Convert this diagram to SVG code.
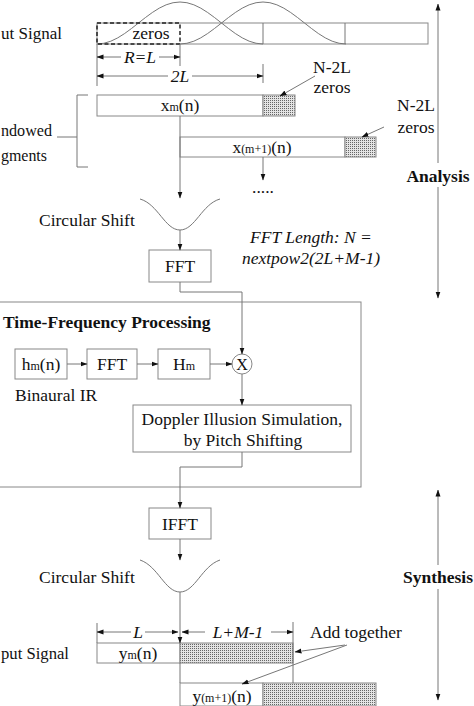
<svg xmlns="http://www.w3.org/2000/svg" width="474" height="706" viewBox="0 0 474 706">
<defs>
<style>
text{font-family:"Liberation Serif","Times New Roman",serif;font-size:17.5px;fill:#111}
.it{font-style:italic}
.b{font-weight:bold}
.sub{font-size:12px}
.ln{stroke:#777;stroke-width:1;fill:none}
.box{stroke:#888;stroke-width:1;fill:#fff}
.hatch{stroke:#888;stroke-width:1;fill:url(#dots)}
.mid{text-anchor:middle}
</style>
<pattern id="dots" width="2" height="2" patternUnits="userSpaceOnUse">
<rect width="2" height="2" fill="#e4e4e4"/>
<rect width="1" height="1" fill="#666"/>
</pattern>
<marker id="ah" markerWidth="7" markerHeight="6" refX="6.5" refY="3" orient="auto-start-reverse" markerUnits="userSpaceOnUse">
<path d="M0,0.5 L7,3 L0,5.5 Z" fill="#111"/>
</marker>
<polyline id="win" points="97,44 103.92,43.28 110.83,41.19 117.75,37.85 124.67,33.5 131.58,28.43 138.5,23 145.42,17.57 152.33,12.5 159.25,8.15 166.17,4.81 173.08,2.71 180,2 186.92,2.71 193.83,4.81 200.75,8.15 207.67,12.5 214.58,17.57 221.5,23 228.42,28.43 235.33,33.5 242.25,37.85 249.17,41.19 256.08,43.28 263,44"/>
</defs>
<rect width="474" height="706" fill="#fff"/>

<g id="input-signal">
<rect class="box" x="97" y="23" width="331" height="21"/>
<line class="ln" x1="263" y1="23" x2="263" y2="44"/>
<line class="ln" x1="345" y1="23" x2="345" y2="44"/>
<use href="#win" class="ln"/>
<use href="#win" class="ln" transform="translate(83 0)"/>
<rect x="97" y="23" width="83" height="21" fill="none" stroke="#222" stroke-width="1.5" stroke-dasharray="4 2.5"/>
<text class="mid" x="151" y="39">zeros</text>
<text x="1" y="39" textLength="61" lengthAdjust="spacingAndGlyphs">ut Signal</text>
</g>

<g id="dimensions-top">
<line class="ln" x1="97" y1="44" x2="97" y2="86"/>
<line class="ln" x1="180" y1="44" x2="180" y2="66"/>
<line class="ln" x1="263" y1="64" x2="263" y2="83"/>
<line class="ln" x1="97" y1="57" x2="180" y2="57" marker-start="url(#ah)" marker-end="url(#ah)"/>
<rect x="121" y="48" width="38" height="17" fill="#fff"/>
<text class="it mid" x="140" y="63">R=L</text>
<line class="ln" x1="97" y1="76" x2="263" y2="76" marker-start="url(#ah)" marker-end="url(#ah)"/>
<rect x="168" y="67" width="24" height="17" fill="#fff"/>
<text class="it mid" x="180" y="82">2L</text>
</g>

<g id="segment-m">
<rect class="box" x="97" y="95" width="166" height="21"/>
<rect class="hatch" x="263" y="95" width="32" height="21"/>
<text class="mid" x="180" y="111">x<tspan class="sub">m</tspan>(n)</text>
<text class="mid" x="332" y="73">N-2L</text>
<text class="mid" x="332" y="93">zeros</text>
<line class="ln" x1="315" y1="76" x2="280" y2="96" marker-end="url(#ah)"/>
</g>

<g id="segment-m1">
<rect class="box" x="180" y="137" width="165" height="20"/>
<rect class="hatch" x="345" y="137" width="31" height="20"/>
<text class="mid" x="262" y="153">x<tspan class="sub">(m+1)</tspan>(n)</text>
<text class="mid" x="416" y="111">N-2L</text>
<text class="mid" x="416" y="133">zeros</text>
<line class="ln" x1="384" y1="127" x2="362" y2="137" marker-end="url(#ah)"/>
<text class="mid" x="263" y="193">.....</text>
</g>

<g id="bracket">
<path class="ln" d="M88,95 H77 V167 H88 M57,137 H77"/>
<text x="1" y="136" textLength="51" lengthAdjust="spacingAndGlyphs">ndowed</text>
<text x="1" y="161" textLength="46" lengthAdjust="spacingAndGlyphs">gments</text>
</g>

<g id="circshift1">
<path class="ln" d="M140,199 C158,204 165,230 180,230 C195,230 202,204 220,199"/>
<text x="39" y="226">Circular Shift</text>
</g>

<g id="fft1">
<rect class="box" x="149" y="250" width="62" height="32"/>
<text class="mid" x="180" y="272">FFT</text>
</g>

<g id="fft-length">
<text class="it mid" x="311" y="243">FFT Length: N =</text>
<text class="it mid" x="311" y="264">nextpow2(2L+M-1)</text>
</g>

<g id="analysis">
<line class="ln" x1="438" y1="4" x2="438" y2="298" marker-start="url(#ah)" marker-end="url(#ah)"/>
<rect x="404" y="163" width="70" height="24" fill="#fff"/>
<text class="b mid" x="438" y="182">Analysis</text>
</g>

<g id="tf-processing">
<rect x="-5" y="302" width="366" height="185" fill="none" stroke="#888" stroke-width="1"/>
<text class="b" x="3" y="328">Time-Frequency Processing</text>
</g>

<g id="hm">
<rect class="box" x="15" y="349" width="52" height="30"/>
<text class="mid" x="41" y="370">h<tspan class="sub">m</tspan>(n)</text>
<text x="15" y="401">Binaural IR</text>
</g>

<g id="fft2">
<rect class="box" x="87" y="349" width="50" height="30"/>
<text class="mid" x="112" y="370">FFT</text>
</g>

<g id="Hm">
<rect class="box" x="158" y="349" width="52" height="30"/>
<text class="mid" x="184" y="370">H<tspan class="sub">m</tspan></text>
</g>

<g id="multiply">
<circle cx="242" cy="364" r="10" fill="#fff" stroke="#888"/>
<text class="mid" x="242" y="370" style="font-size:16px">X</text>
</g>

<g id="doppler">
<rect class="box" x="133" y="405" width="218" height="47"/>
<text class="mid" x="242" y="425">Doppler Illusion Simulation,</text>
<text class="mid" x="243" y="446">by Pitch Shifting</text>
</g>

<g id="ifft">
<rect class="box" x="149" y="508" width="62" height="31"/>
<text class="mid" x="180" y="530">IFFT</text>
</g>

<g id="circshift2">
<path class="ln" d="M140,560 C158,566 165,592 180,592 C195,592 202,566 220,560"/>
<text x="39" y="583">Circular Shift</text>
</g>

<g id="synthesis">
<line class="ln" x1="438" y1="490" x2="438" y2="700" marker-start="url(#ah)" marker-end="url(#ah)"/>
<rect x="402" y="565" width="72" height="24" fill="#fff"/>
<text class="b mid" x="438" y="583">Synthesis</text>
</g>

<g id="output-signal">
<rect class="box" x="97" y="643" width="83" height="20"/>
<rect class="hatch" x="180" y="643" width="113" height="20"/>
<text class="mid" x="138" y="659">y<tspan class="sub">m</tspan>(n)</text>
<rect class="box" x="180" y="683" width="83" height="23"/>
<rect class="hatch" x="263" y="683" width="113" height="23"/>
<text class="mid" x="222" y="702">y<tspan class="sub">(m+1)</tspan>(n)</text>
<text x="1" y="659" textLength="68" lengthAdjust="spacingAndGlyphs">put Signal</text>
</g>

<g id="dimensions-bottom">
<line class="ln" x1="97" y1="623" x2="97" y2="643"/>
<line class="ln" x1="293" y1="622" x2="293" y2="683"/>
<line class="ln" x1="97" y1="632" x2="178" y2="632" marker-start="url(#ah)" marker-end="url(#ah)"/>
<line class="ln" x1="182" y1="632" x2="293" y2="632" marker-start="url(#ah)" marker-end="url(#ah)"/>
<rect x="131" y="623" width="14" height="17" fill="#fff"/>
<text class="it mid" x="138" y="638">L</text>
<rect x="205" y="623" width="66" height="17" fill="#fff"/>
<text class="it mid" x="238" y="638">L+M-1</text>
</g>

<g id="add-together">
<text x="310" y="638">Add together</text>
<line class="ln" x1="345" y1="645" x2="295" y2="652" marker-end="url(#ah)"/>
<line class="ln" x1="347" y1="645" x2="242" y2="684" marker-end="url(#ah)"/>
</g>

<g id="connectors">
<line class="ln" x1="180" y1="116" x2="180" y2="198" marker-end="url(#ah)"/>
<line class="ln" x1="263" y1="157" x2="263" y2="180" marker-end="url(#ah)"/>
<line class="ln" x1="180" y1="230" x2="180" y2="250" marker-end="url(#ah)"/>
<path class="ln" d="M180,282 V292 H242 V354" marker-end="url(#ah)"/>
<line class="ln" x1="67" y1="364" x2="87" y2="364" marker-end="url(#ah)"/>
<line class="ln" x1="137" y1="364" x2="158" y2="364" marker-end="url(#ah)"/>
<line class="ln" x1="210" y1="364" x2="232" y2="364" marker-end="url(#ah)"/>
<line class="ln" x1="242" y1="374" x2="242" y2="405" marker-end="url(#ah)"/>
<path class="ln" d="M242,452 V467 H180 V508" marker-end="url(#ah)"/>
<line class="ln" x1="180" y1="539" x2="180" y2="560" marker-end="url(#ah)"/>
<line class="ln" x1="180" y1="592" x2="180" y2="643" marker-end="url(#ah)"/>
<line class="ln" x1="180" y1="663" x2="180" y2="683"/>
</g>
</svg>
